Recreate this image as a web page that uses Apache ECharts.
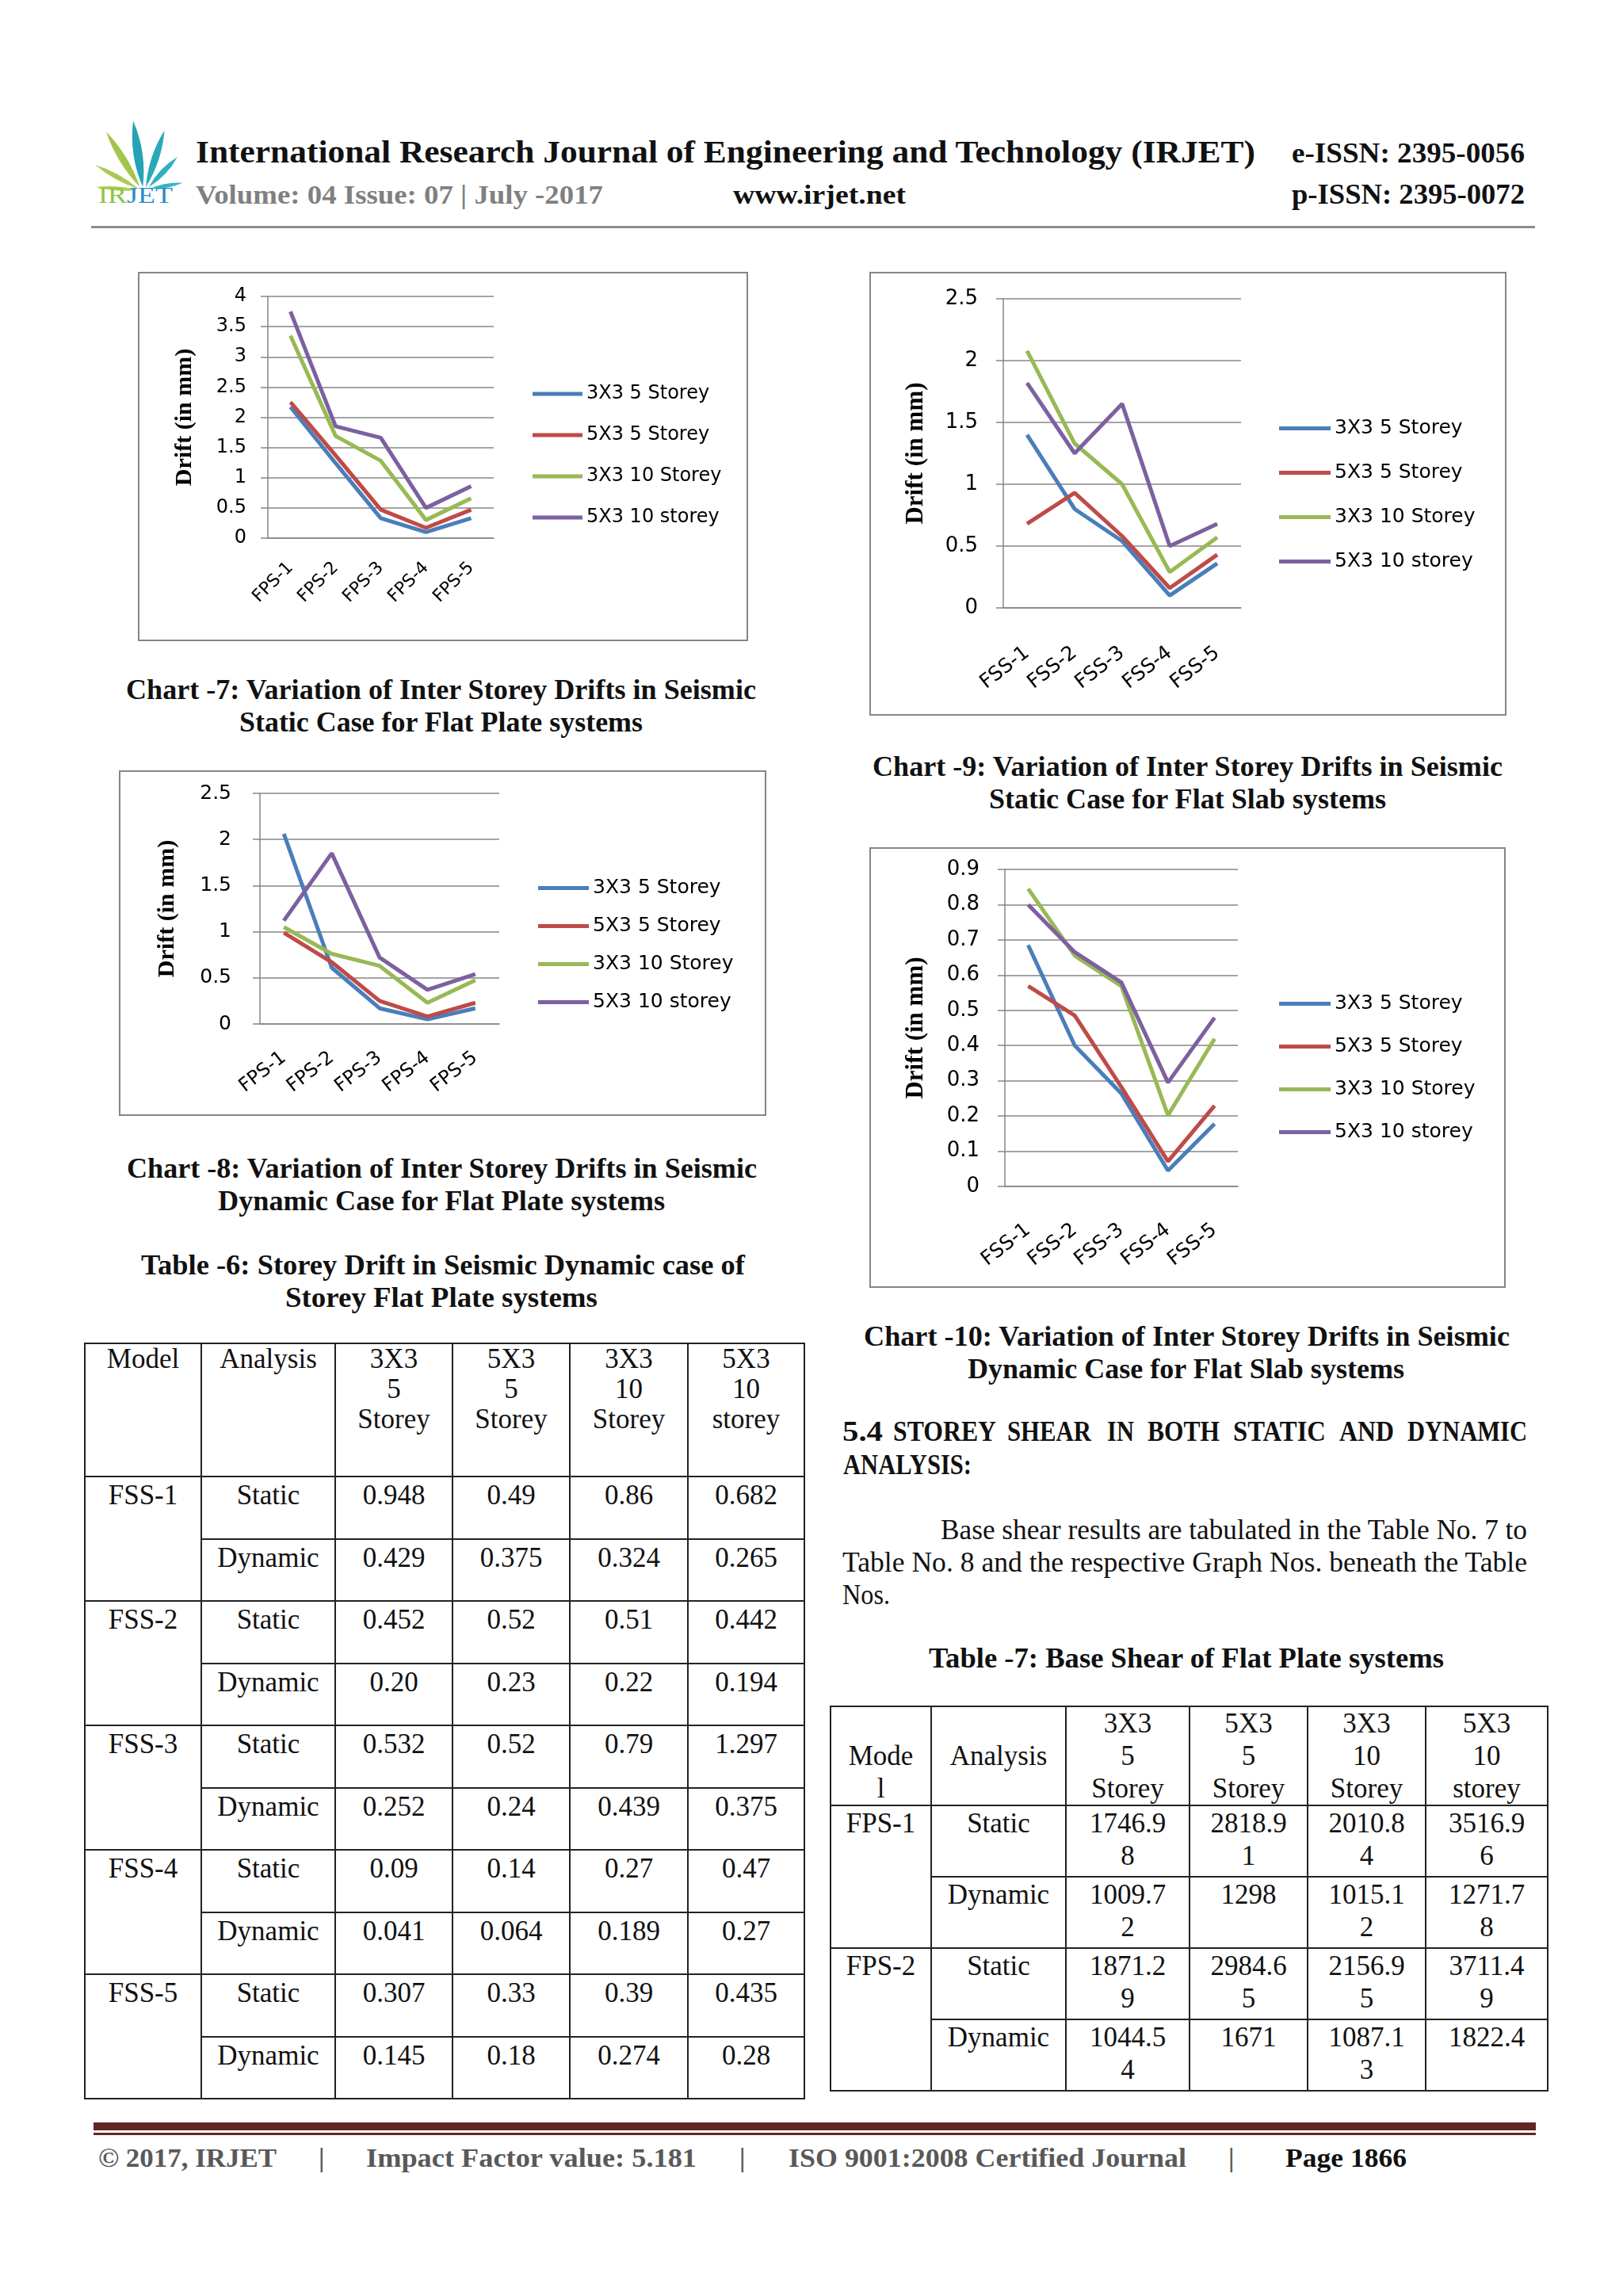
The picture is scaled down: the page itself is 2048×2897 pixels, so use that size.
<!DOCTYPE html>
<html><head><meta charset="utf-8">
<script src="https://cdn.jsdelivr.net/npm/echarts@6/dist/echarts.min.js"></script>
<style>
html,body{margin:0;padding:0;background:#fff;}
#page{position:relative;width:2048px;height:2897px;overflow:hidden;background:#fff;}
.box{position:absolute;border:2px solid #868686;box-sizing:border-box;pointer-events:none;}
.chart{position:absolute;}
#txt{position:absolute;left:0;top:0;}
table{position:absolute;border-collapse:collapse;table-layout:fixed;font-family:'Liberation Serif',serif;font-size:35px;color:#111;}
td{border:2px solid #222;text-align:center;vertical-align:top;padding:0;overflow:hidden;}
#t6 td{line-height:38px;}
#t6 tr.d td{padding-top:4px;}
#t7 td{line-height:41px;}
#t7 tr.d td{padding-top:1px;}
</style></head>
<body>
<div id="page">
<svg id="txt" width="2048" height="2897" xmlns="http://www.w3.org/2000/svg">
  <g id="logo"></g>
  <text x="124" y="256" font-family="Liberation Serif" font-size="30" textLength="94" lengthAdjust="spacingAndGlyphs"><tspan fill="#8dc63f">IR</tspan><tspan fill="#2e8bc9">JET</tspan></text>
  <g font-family="Liberation Serif" font-weight="bold" fill="#111">
    <text x="247" y="205" font-size="40" textLength="1337" lengthAdjust="spacingAndGlyphs">International Research Journal of Engineering and Technology (IRJET)</text>
    <text x="1630" y="205" font-size="36" textLength="294" lengthAdjust="spacingAndGlyphs">e-ISSN: 2395-0056</text>
    <text x="247" y="257" font-size="34" fill="#808080" textLength="514" lengthAdjust="spacingAndGlyphs">Volume: 04 Issue: 07 | July -2017</text>
    <text x="925" y="257" font-size="34" textLength="218" lengthAdjust="spacingAndGlyphs">www.irjet.net</text>
    <text x="1630" y="257" font-size="36" textLength="294" lengthAdjust="spacingAndGlyphs">p-ISSN: 2395-0072</text>
  </g>
  <rect x="115" y="285" width="1822" height="3" fill="#8c8c8c"/>
  <g font-family="Liberation Serif" font-weight="bold" font-size="35" fill="#111">
    <text x="159" y="882" textLength="795" lengthAdjust="spacingAndGlyphs">Chart -7: Variation of Inter Storey Drifts in Seismic</text>
    <text x="302" y="923" textLength="509" lengthAdjust="spacingAndGlyphs">Static Case for Flat Plate systems</text>
    <text x="160" y="1486" textLength="795" lengthAdjust="spacingAndGlyphs">Chart -8: Variation of Inter Storey Drifts in Seismic</text>
    <text x="275" y="1527" textLength="564" lengthAdjust="spacingAndGlyphs">Dynamic Case for Flat Plate systems</text>
    <text x="178" y="1608" textLength="762" lengthAdjust="spacingAndGlyphs">Table -6: Storey Drift in Seismic Dynamic case of</text>
    <text x="360" y="1649" textLength="394" lengthAdjust="spacingAndGlyphs">Storey Flat Plate systems</text>
    <text x="1101" y="979" textLength="795" lengthAdjust="spacingAndGlyphs">Chart -9: Variation of Inter Storey Drifts in Seismic</text>
    <text x="1248" y="1020" textLength="501" lengthAdjust="spacingAndGlyphs">Static Case for Flat Slab systems</text>
    <text x="1090" y="1698" textLength="815" lengthAdjust="spacingAndGlyphs">Chart -10: Variation of Inter Storey Drifts in Seismic</text>
    <text x="1221" y="1739" textLength="551" lengthAdjust="spacingAndGlyphs">Dynamic Case for Flat Slab systems</text>
    <text x="1063" y="1818" textLength="51" lengthAdjust="spacingAndGlyphs">5.4</text>
    <text x="1127" y="1818" textLength="130" lengthAdjust="spacingAndGlyphs">STOREY</text>
    <text x="1271" y="1818" textLength="106" lengthAdjust="spacingAndGlyphs">SHEAR</text>
    <text x="1397" y="1818" textLength="34" lengthAdjust="spacingAndGlyphs">IN</text>
    <text x="1448" y="1818" textLength="91" lengthAdjust="spacingAndGlyphs">BOTH</text>
    <text x="1556" y="1818" textLength="117" lengthAdjust="spacingAndGlyphs">STATIC</text>
    <text x="1690" y="1818" textLength="69" lengthAdjust="spacingAndGlyphs">AND</text>
    <text x="1776" y="1818" textLength="151" lengthAdjust="spacingAndGlyphs">DYNAMIC</text>
    <text x="1064" y="1860" textLength="162" lengthAdjust="spacingAndGlyphs">ANALYSIS:</text>
    <text x="1172" y="2104" textLength="650" lengthAdjust="spacingAndGlyphs">Table -7: Base Shear of Flat Plate systems</text>
  </g>
  <g font-family="Liberation Serif" font-size="35" fill="#111">
    <text x="1187" y="1942" textLength="740" lengthAdjust="spacingAndGlyphs">Base shear results are tabulated in the Table No. 7 to</text>
    <text x="1063" y="1983" textLength="864" lengthAdjust="spacingAndGlyphs">Table No. 8 and the respective Graph Nos. beneath the Table</text>
    <text x="1063" y="2024" textLength="60" lengthAdjust="spacingAndGlyphs">Nos.</text>
  </g>
  <rect x="118" y="2678" width="1820" height="10" fill="#632523"/>
  <rect x="118" y="2691" width="1820" height="3" fill="#632523"/>
  <g font-family="Liberation Serif" font-weight="bold" font-size="34" fill="#595959">
    <text x="124" y="2734" textLength="225" lengthAdjust="spacingAndGlyphs">© 2017, IRJET</text>
    <text x="402" y="2734">|</text>
    <text x="462" y="2734" textLength="417" lengthAdjust="spacingAndGlyphs">Impact Factor value: 5.181</text>
    <text x="933" y="2734">|</text>
    <text x="995" y="2734" textLength="502" lengthAdjust="spacingAndGlyphs">ISO 9001:2008 Certified Journal</text>
    <text x="1550" y="2734">|</text>
    <text x="1622" y="2734" fill="#111" textLength="153" lengthAdjust="spacingAndGlyphs">Page 1866</text>
  </g>
</svg>

<div class="chart" id="c7" style="left:174px;top:343px;width:770px;height:466px;"></div>
<div class="box" style="left:174px;top:343px;width:770px;height:466px;"></div>
<div class="chart" id="c8" style="left:150px;top:972px;width:817px;height:436px;"></div>
<div class="box" style="left:150px;top:972px;width:817px;height:436px;"></div>
<div class="chart" id="c9" style="left:1097px;top:343px;width:804px;height:560px;"></div>
<div class="box" style="left:1097px;top:343px;width:804px;height:560px;"></div>
<div class="chart" id="c10" style="left:1097px;top:1069px;width:803px;height:556px;"></div>
<div class="box" style="left:1097px;top:1069px;width:803px;height:556px;"></div>

<table id="t6" style="left:106px;top:1694px;width:908px;">
  <colgroup><col style="width:147px"><col style="width:169px"><col style="width:148px"><col style="width:148px"><col style="width:149px"><col style="width:147px"></colgroup>
  <tr style="height:168px"><td>Model</td><td>Analysis</td><td>3X3<br>5<br>Storey</td><td>5X3<br>5<br>Storey</td><td>3X3<br>10<br>Storey</td><td>5X3<br>10<br>storey</td></tr>
  <tr class="d" style="height:78.5px"><td rowspan="2">FSS-1</td><td>Static</td><td>0.948</td><td>0.49</td><td>0.86</td><td>0.682</td></tr>
  <tr class="d" style="height:78.5px"><td>Dynamic</td><td>0.429</td><td>0.375</td><td>0.324</td><td>0.265</td></tr>
  <tr class="d" style="height:78.5px"><td rowspan="2">FSS-2</td><td>Static</td><td>0.452</td><td>0.52</td><td>0.51</td><td>0.442</td></tr>
  <tr class="d" style="height:78.5px"><td>Dynamic</td><td>0.20</td><td>0.23</td><td>0.22</td><td>0.194</td></tr>
  <tr class="d" style="height:78.5px"><td rowspan="2">FSS-3</td><td>Static</td><td>0.532</td><td>0.52</td><td>0.79</td><td>1.297</td></tr>
  <tr class="d" style="height:78.5px"><td>Dynamic</td><td>0.252</td><td>0.24</td><td>0.439</td><td>0.375</td></tr>
  <tr class="d" style="height:78.5px"><td rowspan="2">FSS-4</td><td>Static</td><td>0.09</td><td>0.14</td><td>0.27</td><td>0.47</td></tr>
  <tr class="d" style="height:78.5px"><td>Dynamic</td><td>0.041</td><td>0.064</td><td>0.189</td><td>0.27</td></tr>
  <tr class="d" style="height:78.5px"><td rowspan="2">FSS-5</td><td>Static</td><td>0.307</td><td>0.33</td><td>0.39</td><td>0.435</td></tr>
  <tr class="d" style="height:78.5px"><td>Dynamic</td><td>0.145</td><td>0.18</td><td>0.274</td><td>0.28</td></tr>
</table>

<table id="t7" style="left:1047px;top:2152px;width:905px;">
  <colgroup><col style="width:127px"><col style="width:170px"><col style="width:156px"><col style="width:149px"><col style="width:149px"><col style="width:154px"></colgroup>
  <tr style="height:123px"><td><br>Mode<br>l</td><td><br>Analysis</td><td>3X3<br>5<br>Storey</td><td>5X3<br>5<br>Storey</td><td>3X3<br>10<br>Storey</td><td>5X3<br>10<br>storey</td></tr>
  <tr class="d" style="height:90px"><td rowspan="2">FPS-1</td><td>Static</td><td>1746.9<br>8</td><td>2818.9<br>1</td><td>2010.8<br>4</td><td>3516.9<br>6</td></tr>
  <tr class="d" style="height:90px"><td>Dynamic</td><td>1009.7<br>2</td><td>1298</td><td>1015.1<br>2</td><td>1271.7<br>8</td></tr>
  <tr class="d" style="height:90px"><td rowspan="2">FPS-2</td><td>Static</td><td>1871.2<br>9</td><td>2984.6<br>5</td><td>2156.9<br>5</td><td>3711.4<br>9</td></tr>
  <tr class="d" style="height:90px"><td>Dynamic</td><td>1044.5<br>4</td><td>1671</td><td>1087.1<br>3</td><td>1822.4</td></tr>
</table>
</div>

<script>
// ---------------- data ----------------
const categoriesFPS = ['FPS-1', 'FPS-2', 'FPS-3', 'FPS-4', 'FPS-5'];
const categoriesFSS = ['FSS-1', 'FSS-2', 'FSS-3', 'FSS-4', 'FSS-5'];
const seriesNames = ['3X3 5 Storey', '5X3 5 Storey', '3X3 10 Storey', '5X3 10 storey'];
const seriesColors = ['#4A7EBB', '#BE4B48', '#98B954', '#7D60A0'];
const yAxisTitle = 'Drift (in mm)';

// Chart 7 : seismic static, flat plate
const chart7_3x3_5 = [2.17, 1.24, 0.33, 0.10, 0.33];
const chart7_5x3_5 = [2.25, 1.37, 0.47, 0.17, 0.47];
const chart7_3x3_10 = [3.35, 1.69, 1.28, 0.30, 0.66];
const chart7_5x3_10 = [3.75, 1.85, 1.66, 0.50, 0.86];
const chart7Ticks = [0, 0.5, 1, 1.5, 2, 2.5, 3, 3.5, 4];

// Chart 8 : seismic dynamic, flat plate
const chart8_3x3_5 = [2.06, 0.61, 0.17, 0.05, 0.17];
const chart8_5x3_5 = [0.99, 0.67, 0.25, 0.08, 0.23];
const chart8_3x3_10 = [1.05, 0.76, 0.63, 0.23, 0.475];
const chart8_5x3_10 = [1.12, 1.85, 0.72, 0.37, 0.54];
const chart8Ticks = [0, 0.5, 1, 1.5, 2, 2.5];

// Chart 9 : seismic static, flat slab
const chart9_3x3_5 = [1.40, 0.80, 0.54, 0.10, 0.36];
const chart9_5x3_5 = [0.68, 0.93, 0.58, 0.16, 0.43];
const chart9_3x3_10 = [2.08, 1.33, 1.00, 0.29, 0.57];
const chart9_5x3_10 = [1.82, 1.25, 1.65, 0.50, 0.68];
const chart9Ticks = [0, 0.5, 1, 1.5, 2, 2.5];

// Chart 10 : seismic dynamic, flat slab
const chart10_3x3_5 = [0.685, 0.40, 0.264, 0.045, 0.178];
const chart10_5x3_5 = [0.569, 0.485, 0.282, 0.071, 0.229];
const chart10_3x3_10 = [0.845, 0.655, 0.569, 0.202, 0.419];
const chart10_5x3_10 = [0.80, 0.665, 0.579, 0.295, 0.479];
const chart10Ticks = [0, 0.1, 0.2, 0.3, 0.4, 0.5, 0.6, 0.7, 0.8, 0.9];

// ---------------- logo (decoration) ----------------
(function () {
  const g = document.getElementById('logo');
  const leaves = [
    [190, 250, 158, 30, 30, '#25a3b6'],
    [200, 250, 262, 62, 24, '#2aa9bb'],
    [210, 250, 305, 150, 19, '#2fb0bf'],
    [215, 255, 322, 236, 13, '#35b5c2'],
    [180, 250, 68, 66, 24, '#a3c64a'],
    [175, 255, 32, 176, 17, '#a9ca52'],
    [175, 260, 34, 250, 13, '#b0ce5c']
  ];
  const X = v => 108 + v * 0.38, Y = v => 141 + v * 0.38;
  leaves.forEach(l => {
    const bx = X(l[0]), by = Y(l[1]), tx = X(l[2]), ty = Y(l[3]), w = l[4] * 0.38;
    const mx = (bx + tx) / 2, my = (by + ty) / 2;
    const dx = tx - bx, dy = ty - by, len = Math.hypot(dx, dy);
    const nx = -dy / len * w, ny = dx / len * w;
    const p = document.createElementNS('http://www.w3.org/2000/svg', 'path');
    p.setAttribute('d', `M${bx},${by} Q${mx + nx},${my + ny} ${tx},${ty} Q${mx - nx},${my - ny} ${bx},${by} Z`);
    p.setAttribute('fill', l[5]);
    g.appendChild(p);
  });
})();

// ---------------- charts ----------------
function buildChart(id, cats, values, ticks, L) {
  const chart = echarts.init(document.getElementById(id));
  const gray = '#868686';
  chart.setOption({
    animation: false,
    backgroundColor: '#ffffff',
    grid: { left: L.gl, top: L.gt, width: L.gw, height: L.gh, containLabel: false },
    legend: {
      data: seriesNames,
      orient: 'vertical',
      left: L.ll, top: L.lt,
      padding: 0,
      icon: 'rect',
      itemWidth: L.lw, itemHeight: 5, itemGap: L.lg,
      textStyle: { fontFamily: 'DejaVu Sans', fontSize: L.lf, color: '#000', lineHeight: 24, padding: [0, 0, 0, 0] }
    },
    xAxis: {
      type: 'category',
      data: cats,
      boundaryGap: true,
      axisLine: { show: true, lineStyle: { color: gray, width: 1.5 } },
      axisTick: { show: false },
      axisLabel: { rotate: L.xr, margin: L.xm, fontFamily: 'DejaVu Sans', fontSize: L.xf, color: '#000', interval: 0 }
    },
    yAxis: {
      type: 'value',
      min: ticks[0], max: ticks[ticks.length - 1], interval: ticks[1] - ticks[0],
      name: yAxisTitle,
      nameLocation: 'middle',
      nameGap: L.ng,
      nameTextStyle: { fontFamily: 'Liberation Serif', fontWeight: 'bold', fontSize: L.nf, color: '#000' },
      axisLine: { show: true, lineStyle: { color: gray, width: 1.5 } },
      axisTick: { show: true, length: 9, lineStyle: { color: gray, width: 1.5 } },
      splitLine: { show: true, lineStyle: { color: gray, width: 1.5 } },
      axisLabel: { margin: L.ym, fontFamily: 'DejaVu Sans', fontSize: L.yf, color: '#000',
        formatter: v => String(Math.round(v * 100) / 100) }
    },
    series: values.map((arr, i) => ({
      name: seriesNames[i],
      type: 'line',
      data: arr,
      symbol: 'none',
      color: seriesColors[i],
      lineStyle: { width: 5, color: seriesColors[i] }
    }))
  });
}

buildChart('c7', categoriesFPS, [chart7_3x3_5, chart7_5x3_5, chart7_3x3_10, chart7_5x3_10], chart7Ticks,
  { gl: 164, gt: 31, gw: 285, gh: 305, ll: 498, lt: 142, lw: 63, lg: 28, lf: 24, xr: 45, xm: 34, xf: 22, ng: 90, nf: 30, ym: 27, yf: 24 });
buildChart('c8', categoriesFPS, [chart8_3x3_5, chart8_5x3_5, chart8_3x3_10, chart8_5x3_10], chart8Ticks,
  { gl: 178, gt: 29, gw: 302, gh: 291, ll: 529, lt: 136, lw: 64, lg: 23, lf: 25, xr: 38, xm: 40, xf: 24, ng: 102, nf: 30, ym: 36, yf: 25 });
buildChart('c9', categoriesFSS, [chart9_3x3_5, chart9_5x3_5, chart9_3x3_10, chart9_5x3_10], chart9Ticks,
  { gl: 169, gt: 34, gw: 300, gh: 390, ll: 517, lt: 185, lw: 65, lg: 31, lf: 25, xr: 38, xm: 54, xf: 25, ng: 95, nf: 31, ym: 32, yf: 26 });
buildChart('c10', categoriesFSS, [chart10_3x3_5, chart10_5x3_5, chart10_3x3_10, chart10_5x3_10], chart10Ticks,
  { gl: 171, gt: 28, gw: 294, gh: 400, ll: 517, lt: 185, lw: 65, lg: 29, lf: 25, xr: 38, xm: 52, xf: 25, ng: 97, nf: 31, ym: 32, yf: 26 });
</script>
</body></html>
